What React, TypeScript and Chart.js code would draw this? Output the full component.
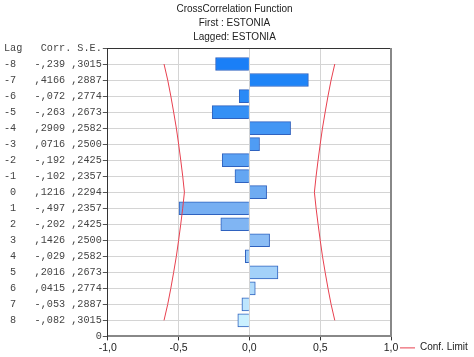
import React, { useEffect, useRef } from "react";
import { Chart, registerables } from "chart.js";

Chart.register(...registerables);

const lags = [-8, -7, -6, -5, -4, -3, -2, -1, 0, 1, 2, 3, 4, 5, 6, 7, 8];
const corr = [-0.239, 0.4166, -0.072, -0.263, 0.2909, 0.0716, -0.192, -0.102, 0.1216, -0.497, -0.202, 0.1426, -0.029, 0.2016, 0.0415, -0.053, -0.082];
const se = [0.3015, 0.2887, 0.2774, 0.2673, 0.2582, 0.25, 0.2425, 0.2357, 0.2294, 0.2357, 0.2425, 0.25, 0.2582, 0.2673, 0.2774, 0.2887, 0.3015];
const confLimit = [0.603, 0.577, 0.555, 0.535, 0.516, 0.5, 0.485, 0.471, 0.459, 0.471, 0.485, 0.5, 0.516, 0.535, 0.555, 0.577, 0.603];
const xTicks = [-1, -0.5, 0, 0.5, 1];
const legendLabel = "Conf. Limit";
const barColors = [
  "#1a7ff7", "#1f84f7", "#2a8af6", "#3590f5", "#4396f4", "#4f9cf4", "#5aa1f3", "#64a6f2", "#6eabf2",
  "#77aff2", "#80b5f3", "#8bbdf5", "#97c7f7", "#a3d1f9", "#b0dbfb", "#bde5fd", "#caf0ff",
];
const LIMIT_COLOR = "#e8404f";

const fmtCorr = (v: number) => (v < 0 ? "-," + Math.abs(v).toFixed(3).slice(2) : "," + v.toFixed(4).slice(2));
const fmtSe = (v: number) => "," + v.toFixed(4).slice(2);

export default function App() {
  const ref = useRef<HTMLCanvasElement>(null);
  useEffect(() => {
    if (!ref.current) return;
    const frame = {
      id: "frame",
      afterDraw(chart: any) {
        const { ctx, chartArea: a } = chart;
        ctx.save();
        ctx.strokeStyle = "#333";
        ctx.lineWidth = 1;
        ctx.beginPath();
        ctx.moveTo(a.left, a.top + 0.5);
        ctx.lineTo(a.right, a.top + 0.5);
        ctx.stroke();
        ctx.strokeStyle = "#888";
        ctx.lineWidth = 2;
        ctx.beginPath();
        ctx.moveTo(a.right, a.top);
        ctx.lineTo(a.right, a.bottom);
        ctx.stroke();
        // legend
        const ly = a.bottom + 11;
        const lx = a.right + 9;
        ctx.strokeStyle = LIMIT_COLOR;
        ctx.lineWidth = 1;
        ctx.beginPath();
        ctx.moveTo(lx, ly + 0.5);
        ctx.lineTo(lx + 15, ly + 0.5);
        ctx.stroke();
        ctx.fillStyle = "#222";
        ctx.font = "10px 'Liberation Sans'";
        ctx.textBaseline = "middle";
        ctx.textAlign = "left";
        ctx.fillText(legendLabel, lx + 20, ly);
        ctx.restore();
      },
    };
    const chart = new Chart(ref.current, {
      type: "bar",
      data: {
        datasets: [
          {
            type: "bar",
            label: "Corr",
            data: lags.map((l, i) => ({ x: corr[i], y: l })),
            backgroundColor: barColors,
            borderColor: "#2f62bf",
            borderWidth: 1,
            barThickness: 13,
            order: 2,
          } as any,
          {
            type: "line",
            label: legendLabel,
            data: lags.map((l, i) => ({ x: -confLimit[i], y: l })),
            borderColor: LIMIT_COLOR,
            backgroundColor: LIMIT_COLOR,
            borderWidth: 1,
            pointRadius: 0,
            indexAxis: "y",
            order: 1,
          } as any,
          {
            type: "line",
            label: legendLabel,
            data: lags.map((l, i) => ({ x: confLimit[i], y: l })),
            borderColor: LIMIT_COLOR,
            backgroundColor: LIMIT_COLOR,
            borderWidth: 1,
            pointRadius: 0,
            indexAxis: "y",
            order: 1,
          } as any,
        ],
      },
      options: {
        indexAxis: "y",
        animation: false,
        responsive: false,
        layout: { padding: { left: 3, right: 8, top: 0, bottom: 2 } },
        scales: {
          x: {
            type: "linear",
            min: -1,
            max: 1,
            offset: false,
            afterBuildTicks: (s: any) => {
              s.ticks = xTicks.map((v) => ({ value: v }));
            },
            ticks: {
              callback: (v: any) => Number(v).toFixed(1).replace(".", ","),
              font: { family: "Liberation Sans", size: 10.5 },
              color: "#222",
              padding: 1,
              maxRotation: 0,
            },
            grid: {
              offset: false,
              color: (c: any) => (c.tick && (c.tick.value === -1 || c.tick.value === 1) ? "rgba(0,0,0,0)" : "#d4d4d4"),
              tickColor: "#333",
              tickLength: 4,
            },
            border: { color: "#888", width: 2 },
          },
          y: {
            type: "linear",
            min: -9,
            max: 9,
            reverse: true,
            offset: false,
            afterBuildTicks: (s: any) => {
              const t = [];
              for (let v = -9; v <= 9; v++) t.push({ value: v });
              s.ticks = t;
            },
            ticks: {
              autoSkip: false,
              callback: (v: any) => {
                const n = Math.round(Number(v));
                if (n === -9) return "Lag   Corr. S.E.";
                if (n === 9) return "0";
                const i = lags.indexOf(n);
                if (i < 0) return "";
                return String(n).padStart(2, " ") + "   " + fmtCorr(corr[i]).padEnd(5, " ") + " " + fmtSe(se[i]);
              },
              font: { family: "Liberation Mono", size: 10.2 },
              color: "#444",
              padding: 1,
            },
            grid: {
              offset: false,
              color: (c: any) => (c.tick && (c.tick.value === -9 || c.tick.value === 9) ? "rgba(0,0,0,0)" : "#d4d4d4"),
              tickColor: "#555",
              tickLength: 5,
            },
            border: { color: "#333", width: 1 },
          },
          spacer: {
            type: "linear",
            position: "right",
            axis: "y",
            display: true,
            grid: { display: false, drawTicks: false },
            border: { display: false },
            ticks: { display: false },
            afterFit: (s: any) => {
              s.width = 75;
            },
          },
        },
        plugins: {
          title: {
            display: true,
            text: ["CrossCorrelation Function", "First : ESTONIA", "Lagged: ESTONIA"],
            font: { family: "Liberation Sans", size: 10, weight: "normal", lineHeight: "14px" },
            color: "#222",
            padding: { top: 2, bottom: 4 },
          },
          legend: { display: false },
          tooltip: { enabled: false },
        },
      },
      plugins: [frame],
    } as any);
    return () => chart.destroy();
  }, []);
  return (
    <div style={{ position: "fixed", left: 0, top: 0, width: 474, height: 357, background: "#fff" }}>
      <canvas ref={ref} width={474} height={357} />
    </div>
  );
}
